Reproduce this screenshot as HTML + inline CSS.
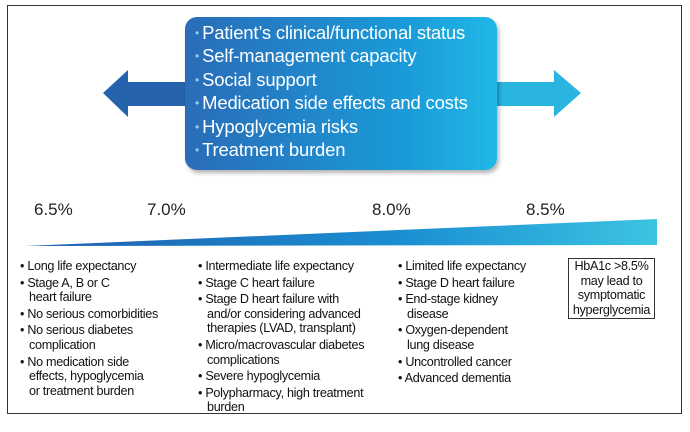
<!DOCTYPE html>
<html><head><style>
body{margin:0;width:690px;height:432px;background:#fff;font-family:"Liberation Sans",sans-serif;position:relative;overflow:hidden}
.frame{position:absolute;left:7px;top:5px;width:673px;height:407px;border:1px solid #333}
.box{position:absolute;left:185px;top:17px;width:312px;height:153px;border-radius:12px;background:linear-gradient(90deg,#2a6cb8,#1a9ad8 70%,#20b8e6);box-shadow:2px 3px 4px rgba(0,0,0,.3)}
.box ul{list-style:none;margin:0;padding:4px 0 0 10px;color:#fff;font-size:18.5px;line-height:23.4px;letter-spacing:-0.2px;white-space:nowrap}
.box li{height:23.4px}
.box li:before{content:"• ";color:#8fd0f0;font-size:12px;line-height:0;vertical-align:2px}
.pct{position:absolute;top:200px;font-size:17px;color:#222}
.col{position:absolute;top:259px;font-size:12.6px;line-height:14.6px;color:#111;margin:0;padding:0;list-style:none;letter-spacing:-0.3px;white-space:nowrap}
.col li{padding-left:9px;text-indent:-9px;margin-bottom:2px}
.col li:before{content:"• ";}
.hb{position:absolute;left:568px;top:258px;width:85px;height:59px;border:1px solid #333;font-size:12.6px;line-height:14.5px;text-align:center;color:#111;letter-spacing:-0.3px}
</style></head><body>
<div class="frame"></div>
<svg width="690" height="432" style="position:absolute;left:0;top:0">
<defs>
<linearGradient id="g" x1="0" x2="1"><stop offset="0" stop-color="#1f5fae"/><stop offset="0.6" stop-color="#1b8fd2"/><stop offset="1" stop-color="#3cc4e2"/></linearGradient>
</defs>
<polygon points="103,93 128,70 128,82 190,82 190,106 128,106 128,117" fill="#2563ad"/>
<polygon points="581,93 554,70 554,82 490,82 490,106 554,106 554,117" fill="#2ab4e0"/>
<polygon points="25,246 657,219 657,245" fill="url(#g)"/>
</svg>
<div class="box"><ul>
<li>Patient’s clinical/functional status</li>
<li>Self-management capacity</li>
<li>Social support</li>
<li>Medication side effects and costs</li>
<li>Hypoglycemia risks</li>
<li>Treatment burden</li>
</ul></div>
<div class="pct" style="left:34px">6.5%</div>
<div class="pct" style="left:147px">7.0%</div>
<div class="pct" style="left:372px">8.0%</div>
<div class="pct" style="left:526px">8.5%</div>
<ul class="col" style="left:20px;width:170px">
<li>Long life expectancy</li>
<li>Stage A, B or C<br>heart failure</li>
<li>No serious comorbidities</li>
<li>No serious diabetes<br>complication</li>
<li>No medication side<br>effects, hypoglycemia<br>or treatment burden</li>
</ul>
<ul class="col" style="left:198px;width:190px">
<li>Intermediate life expectancy</li>
<li>Stage C heart failure</li>
<li>Stage D heart failure with<br>and/or considering advanced<br>therapies (LVAD, transplant)</li>
<li>Micro/macrovascular diabetes<br>complications</li>
<li>Severe hypoglycemia</li>
<li>Polypharmacy, high treatment<br>burden</li>
</ul>
<ul class="col" style="left:398px;width:160px">
<li>Limited life expectancy</li>
<li>Stage D heart failure</li>
<li>End-stage kidney<br>disease</li>
<li>Oxygen-dependent<br>lung disease</li>
<li>Uncontrolled cancer</li>
<li>Advanced dementia</li>
</ul>
<div class="hb">HbA1c &gt;8.5%<br>may lead to<br>symptomatic<br>hyperglycemia</div>
</body></html>
